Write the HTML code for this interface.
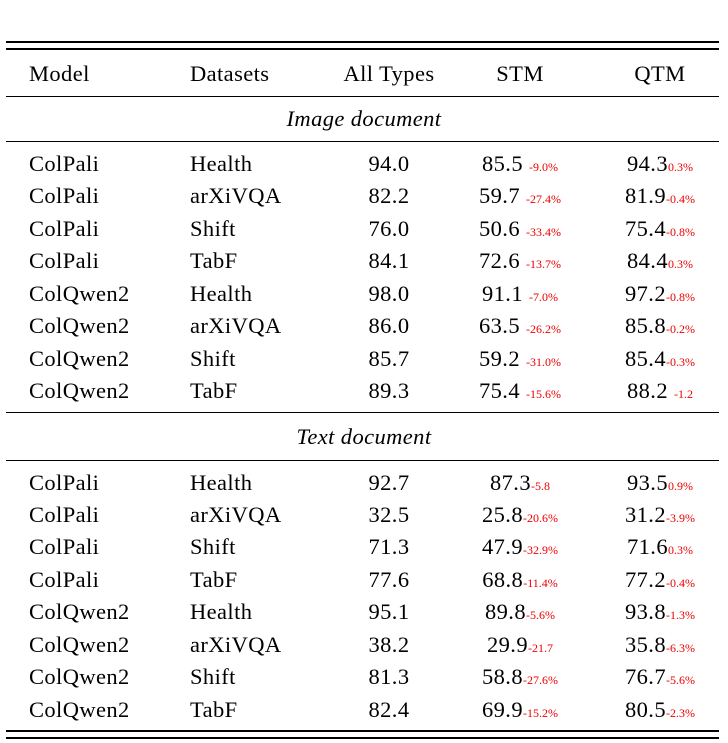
<!DOCTYPE html>
<html><head><meta charset="utf-8"><style>
body{margin:0;width:728px;height:743px;background:#fff;position:relative;overflow:hidden;font-family:"Liberation Serif",serif;color:#000}
.r{position:absolute;left:0;width:728px;height:30px;line-height:30px;font-size:22.5px;letter-spacing:0.4px}
.r span{position:absolute;top:0;white-space:nowrap}
.c1{left:29px}.c2{left:190px}
.c3{left:330px;width:118px;text-align:center}
.c4{left:450px;width:140px;text-align:center}
.c5{left:595px;width:130px;text-align:center}
s{text-decoration:none;color:#e00;font-size:12px;letter-spacing:0}
.h{position:absolute;left:6px;width:713px;background:#000}
.t{position:absolute;left:0;width:728px;text-align:center;font-style:italic;font-size:22.5px;line-height:30px;letter-spacing:0.4px}
</style></head><body>
<div class="h" style="top:41px;height:2px"></div>
<div class="h" style="top:48px;height:2px"></div>
<div class="r" style="top:59px"><span class="c1">Model</span><span class="c2">Datasets</span><span class="c3">All Types</span><span class="c4">STM</span><span class="c5">QTM</span></div>
<div class="h" style="top:96px;height:1px"></div>
<div class="t" style="top:104px">Image document</div>
<div class="h" style="top:141px;height:1px"></div>
<div class="r" style="top:149px"><span class="c1">ColPali</span><span class="c2">Health</span><span class="c3">94.0</span><span class="c4">85.5 <s>-9.0%</s></span><span class="c5">94.3<s>0.3%</s></span></div>
<div class="r" style="top:181px"><span class="c1">ColPali</span><span class="c2">arXiVQA</span><span class="c3">82.2</span><span class="c4">59.7 <s>-27.4%</s></span><span class="c5">81.9<s>-0.4%</s></span></div>
<div class="r" style="top:214px"><span class="c1">ColPali</span><span class="c2">Shift</span><span class="c3">76.0</span><span class="c4">50.6 <s>-33.4%</s></span><span class="c5">75.4<s>-0.8%</s></span></div>
<div class="r" style="top:246px"><span class="c1">ColPali</span><span class="c2">TabF</span><span class="c3">84.1</span><span class="c4">72.6 <s>-13.7%</s></span><span class="c5">84.4<s>0.3%</s></span></div>
<div class="r" style="top:279px"><span class="c1">ColQwen2</span><span class="c2">Health</span><span class="c3">98.0</span><span class="c4">91.1 <s>-7.0%</s></span><span class="c5">97.2<s>-0.8%</s></span></div>
<div class="r" style="top:311px"><span class="c1">ColQwen2</span><span class="c2">arXiVQA</span><span class="c3">86.0</span><span class="c4">63.5 <s>-26.2%</s></span><span class="c5">85.8<s>-0.2%</s></span></div>
<div class="r" style="top:344px"><span class="c1">ColQwen2</span><span class="c2">Shift</span><span class="c3">85.7</span><span class="c4">59.2 <s>-31.0%</s></span><span class="c5">85.4<s>-0.3%</s></span></div>
<div class="r" style="top:376px"><span class="c1">ColQwen2</span><span class="c2">TabF</span><span class="c3">89.3</span><span class="c4">75.4 <s>-15.6%</s></span><span class="c5">88.2 <s>-1.2</s></span></div>
<div class="h" style="top:412px;height:1px"></div>
<div class="t" style="top:422px">Text document</div>
<div class="h" style="top:460px;height:1px"></div>
<div class="r" style="top:468px"><span class="c1">ColPali</span><span class="c2">Health</span><span class="c3">92.7</span><span class="c4">87.3<s>-5.8</s></span><span class="c5">93.5<s>0.9%</s></span></div>
<div class="r" style="top:500px"><span class="c1">ColPali</span><span class="c2">arXiVQA</span><span class="c3">32.5</span><span class="c4">25.8<s>-20.6%</s></span><span class="c5">31.2<s>-3.9%</s></span></div>
<div class="r" style="top:532px"><span class="c1">ColPali</span><span class="c2">Shift</span><span class="c3">71.3</span><span class="c4">47.9<s>-32.9%</s></span><span class="c5">71.6<s>0.3%</s></span></div>
<div class="r" style="top:565px"><span class="c1">ColPali</span><span class="c2">TabF</span><span class="c3">77.6</span><span class="c4">68.8<s>-11.4%</s></span><span class="c5">77.2<s>-0.4%</s></span></div>
<div class="r" style="top:597px"><span class="c1">ColQwen2</span><span class="c2">Health</span><span class="c3">95.1</span><span class="c4">89.8<s>-5.6%</s></span><span class="c5">93.8<s>-1.3%</s></span></div>
<div class="r" style="top:630px"><span class="c1">ColQwen2</span><span class="c2">arXiVQA</span><span class="c3">38.2</span><span class="c4">29.9<s>-21.7</s></span><span class="c5">35.8<s>-6.3%</s></span></div>
<div class="r" style="top:662px"><span class="c1">ColQwen2</span><span class="c2">Shift</span><span class="c3">81.3</span><span class="c4">58.8<s>-27.6%</s></span><span class="c5">76.7<s>-5.6%</s></span></div>
<div class="r" style="top:695px"><span class="c1">ColQwen2</span><span class="c2">TabF</span><span class="c3">82.4</span><span class="c4">69.9<s>-15.2%</s></span><span class="c5">80.5<s>-2.3%</s></span></div>
<div class="h" style="top:730px;height:2px"></div>
<div class="h" style="top:737px;height:2px"></div>
</body></html>
